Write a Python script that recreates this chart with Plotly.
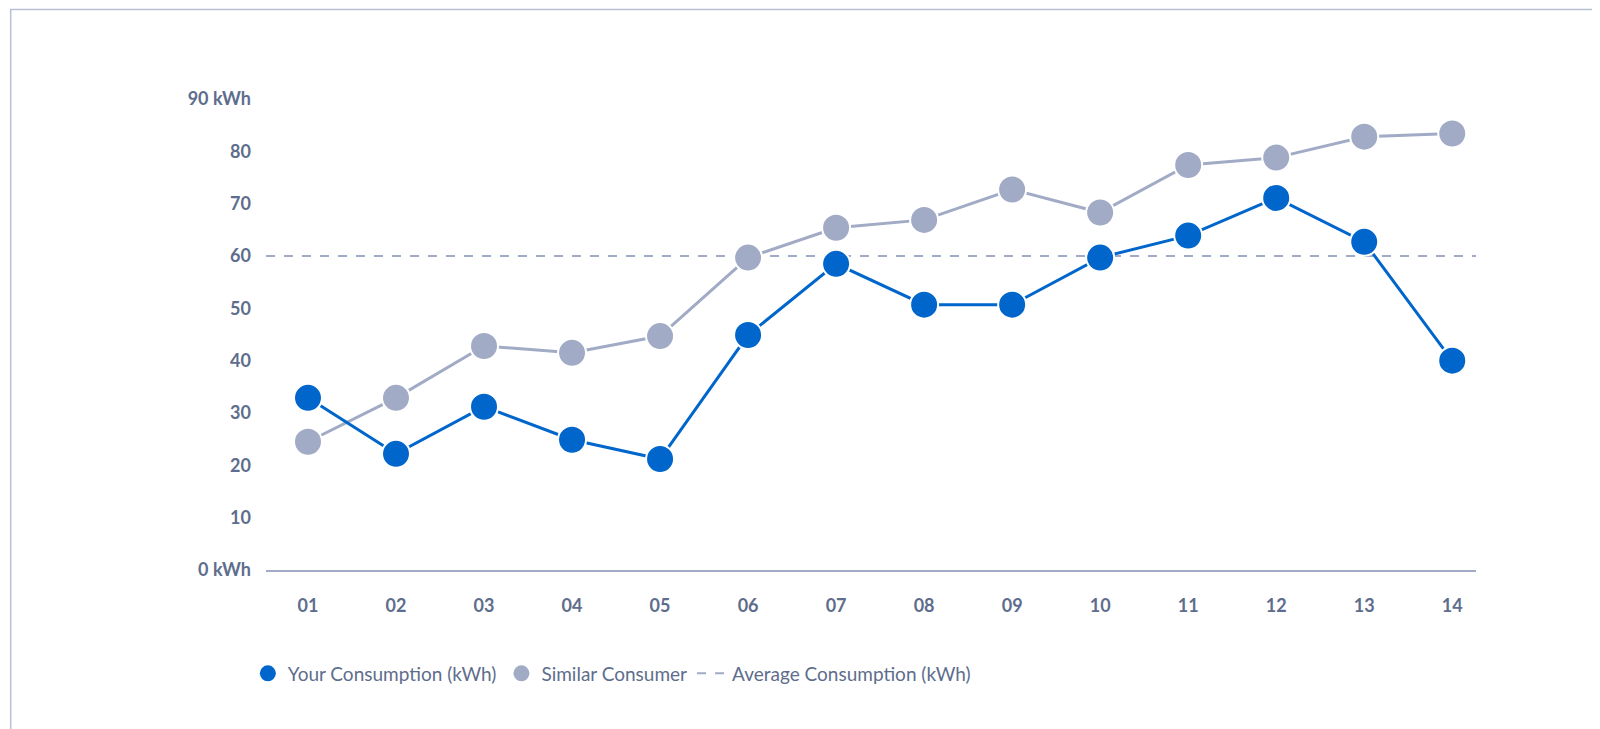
import plotly.graph_objects as go

days = ["01","02","03","04","05","06","07","08","09","10","11","12","13","14"]
your = [32.9,22.2,31.2,24.9,21.2,44.9,58.5,50.7,50.7,59.7,63.9,71.1,62.7,40.0]
similar = [24.5,32.9,42.8,41.5,44.7,59.7,65.4,66.9,72.7,68.3,77.4,78.8,82.8,83.4]
average = 60
yticks = [0,10,20,30,40,50,60,70,80,90]
yticklabels = ["0 kWh","10","20","30","40","50","60","70","80","90 kWh"]

txt = "#5e6d8c"
blue = "#0066cc"
gray = "#a1abc5"
fig = go.Figure()
fig.add_trace(go.Scatter(x=days, y=similar, mode="lines+markers", showlegend=False,
    line=dict(color=gray, width=3),
    marker=dict(size=28, color=gray, line=dict(color="white", width=2)), cliponaxis=False))
fig.add_trace(go.Scatter(x=days, y=your, mode="lines+markers", showlegend=False,
    line=dict(color=blue, width=3),
    marker=dict(size=28, color=blue, line=dict(color="white", width=2)), cliponaxis=False))
fig.add_trace(go.Scatter(x=[None], y=[None], mode="markers", name="Your Consumption (kWh)",
    marker=dict(size=18, color=blue)))
fig.add_trace(go.Scatter(x=[None], y=[None], mode="markers", name="Similar Consumer",
    marker=dict(size=18, color=gray)))
fig.add_trace(go.Scatter(x=[None], y=[None], mode="lines", name="Average Consumption (kWh)",
    line=dict(color=gray, width=2, dash="dash")))
fig.add_shape(type="line", xref="paper", x0=0, x1=1, yref="y", y0=average, y1=average,
    line=dict(color=gray, width=2, dash="dash"), layer="below")
fig.add_shape(type="rect", xref="paper", yref="paper", x0=-0.211, x1=1.105, y0=-0.35, y1=1.19,
    line=dict(color="#b8c0d4", width=1.5))

fig.update_layout(
    width=1600, height=729, paper_bgcolor="white", plot_bgcolor="white",
    margin=dict(l=258, r=132, t=91, b=167),
    font=dict(family="Lato", size=18, color=txt),
    xaxis=dict(type="category", range=[-0.477, 13.27], showgrid=False, showline=True,
               linecolor=gray, linewidth=2, ticks="", ticklabelstandoff=18,
               tickfont=dict(size=18, color=txt, weight="bold")),
    yaxis=dict(range=[0, 90], tickvals=yticks, ticktext=yticklabels, showgrid=False,
               zeroline=False, ticks="", ticklabelstandoff=14,
               tickfont=dict(size=18, color=txt, weight="bold")),
    legend=dict(orientation="h", x=-0.015, y=-0.26, xanchor="left", yanchor="bottom",
                traceorder="normal", font=dict(size=19, color=txt), itemwidth=30),
)
fig.write_html("out.html")
